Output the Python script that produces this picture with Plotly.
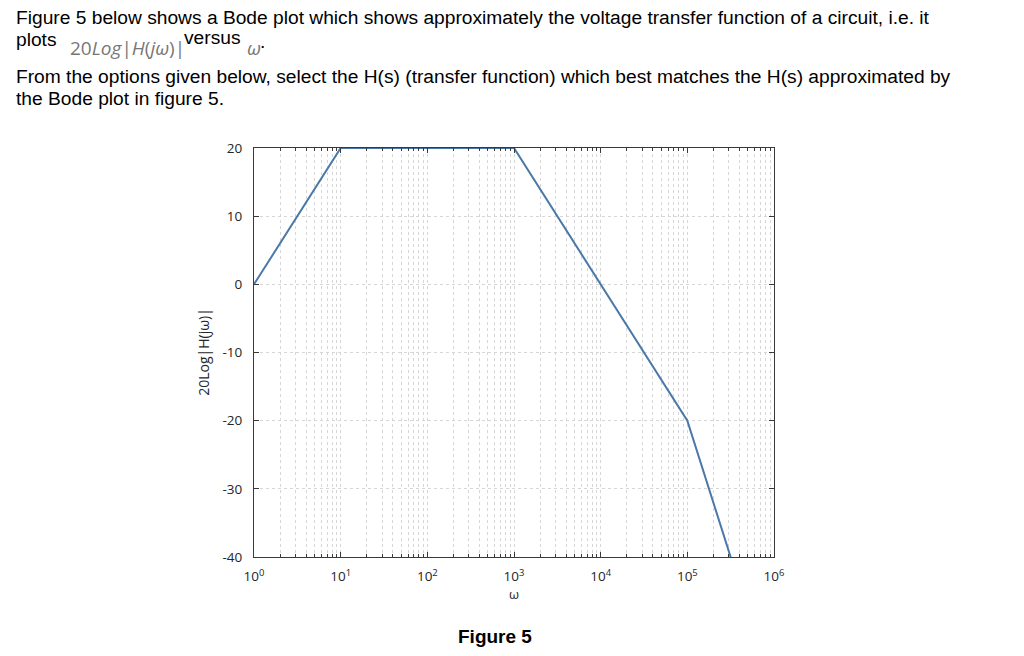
import plotly.graph_objects as go

# ---- data ----
omega = [1, 10, 1000, 1e5, 3.16e5]
mag_db = [0, 20, 20, -20, -40]

x_tick_vals = [1, 10, 100, 1000, 1e4, 1e5, 1e6]
x_tick_text = ["10<sup>0</sup>", "10<sup>1</sup>", "10<sup>2</sup>", "10<sup>3</sup>",
               "10<sup>4</sup>", "10<sup>5</sup>", "10<sup>6</sup>"]
x_minor_vals = [m * d for d in [1, 10, 100, 1000, 1e4, 1e5] for m in range(2, 10)]
y_tick_vals = [-40, -30, -20, -10, 0, 10, 20]
y_tick_text = ["-40", "-30", "-20", "-10", "0", "10", "20"]

header_1 = "Figure 5 below shows a Bode plot which shows approximately the voltage transfer function of a circuit, i.e. it"
header_3 = "From the options given below, select the H(s) (transfer function) which best matches the H(s) approximated by"
header_4 = "the Bode plot in figure 5."
caption = "Figure 5"

OFF = 8  # page body margin
W, H = 1024 - 2 * OFF, 656 - 2 * OFF
L, R, T, B = 254, 774, 148, 557.5  # target plot box in window pixels

def px(xp):
    return (xp - L) / (R - L)

def py(yp):
    return (B - yp) / (B - T)

fig = go.Figure()
fig.add_trace(go.Scatter(x=omega, y=mag_db, mode="lines",
                         line=dict(color="#4a78a8", width=2), showlegend=False,
                         hoverinfo="skip"))

axis_col = "#3a3a3a"
grid_col = "#d6d6d6"
tick_font = dict(family="Open Sans", size=13.5, color="#262626")

fig.update_xaxes(type="log", range=[0, 6], tickmode="array", tickvals=x_tick_vals,
                 ticktext=x_tick_text, ticks="inside", ticklen=5, tickcolor=axis_col,
                 showline=True, linecolor=axis_col, linewidth=1, mirror="allticks",
                 showgrid=True, gridcolor=grid_col, griddash="3px,3px", gridwidth=1,
                 minor=dict(tickmode="array", tickvals=x_minor_vals, ticks="inside",
                            ticklen=3, tickcolor=axis_col, showgrid=True,
                            gridcolor=grid_col, griddash="3px,3px", gridwidth=1),
                 tickfont=tick_font, zeroline=False, ticklabelstandoff=7)
fig.update_yaxes(range=[-40, 20], tickmode="array", tickvals=y_tick_vals,
                 ticktext=y_tick_text,
                 ticks="inside", ticklen=5, tickcolor=axis_col,
                 showline=True, linecolor=axis_col, linewidth=1, mirror="allticks",
                 showgrid=True, gridcolor=grid_col, griddash="3px,3px", gridwidth=1,
                 tickfont=tick_font, zeroline=False, ticklabelstandoff=8)

anns = []
def txt(x, y, s, size=19.2, color="#000000", family="Liberation Sans, Arial", xanchor="left"):
    anns.append(dict(x=px(x), y=py(y), xref="paper", yref="paper", text=s,
                     showarrow=False, xanchor=xanchor, yanchor="middle",
                     font=dict(size=size, color=color, family=family)))

txt(14, 17, header_1)
txt(14, 39, "plots")
txt(68, 48, "20<i>Log</i>|<i>H</i>(<i>jω</i>)|", size=19, color="#777777", family="Open Sans")
txt(182, 37, "versus")
txt(245, 48, "<i>ω</i>", size=19, color="#777777", family="Open Sans")
txt(258, 41, ".")
txt(14, 76, header_3)
txt(14, 98, header_4)
txt(495, 637, "<b>" + caption + "</b>", size=19, xanchor="center")
# axis titles
txt(514, 595, "ω", size=13, color="#262626", family="Open Sans", xanchor="center")
anns.append(dict(x=px(204), y=py(352), xref="paper", yref="paper",
                 text="20Log|H(jω)|", showarrow=False, textangle=-90,
                 xanchor="center", yanchor="middle",
                 font=dict(size=14, color="#262626", family="Open Sans")))

fig.update_layout(width=W, height=H,
                  margin=dict(l=L - OFF, r=W - (R - OFF), t=T - OFF, b=H - (B - OFF)),
                  paper_bgcolor="white", plot_bgcolor="white", annotations=anns)

fig.write_html("out.html")
